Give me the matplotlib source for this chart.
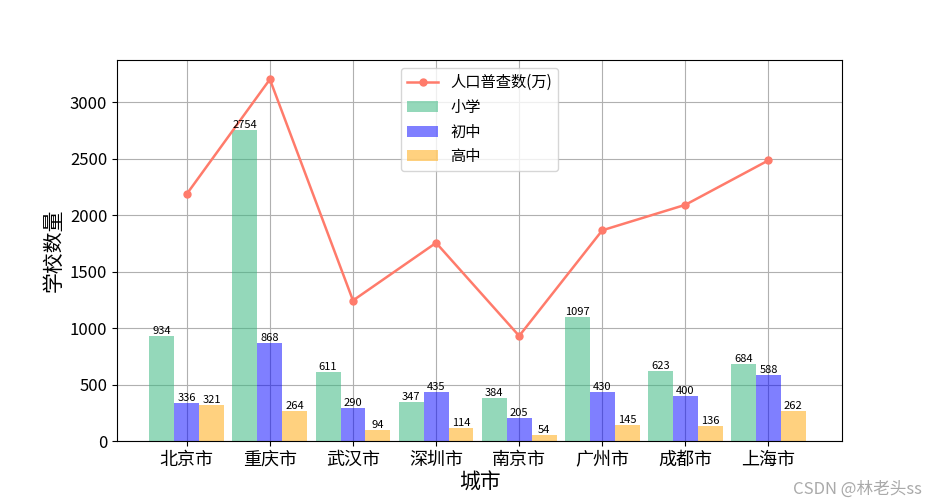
import matplotlib.pyplot as plt
import numpy as np

plt.rcParams['font.sans-serif'] = ['Noto Sans CJK SC']
plt.rcParams['axes.unicode_minus'] = False

cities = ['北京市', '重庆市', '武汉市', '深圳市', '南京市', '广州市', '成都市', '上海市']
primary = [934, 2754, 611, 347, 384, 1097, 623, 684]
junior = [336, 868, 290, 435, 205, 430, 400, 588]
senior = [321, 264, 94, 114, 54, 145, 136, 262]
population = [2189, 3205, 1245, 1756, 931, 1867, 2093, 2487]

x = np.arange(len(cities))
w = 0.3

fig = plt.figure(figsize=(9.36, 5.04), dpi=100)
ax = fig.add_axes([0.125, 0.125, 0.775, 0.755])
ax.grid(True, zorder=0)
ax.set_axisbelow(True)
b1 = ax.bar(x - w, primary, w, color='#3cb982', alpha=0.55, label='小学')
b2 = ax.bar(x, junior, w, color='#0000ff', alpha=0.5, label='初中')
b3 = ax.bar(x + w, senior, w, color='#ffa500', alpha=0.5, label='高中')
ax.plot(x, population, '-o', color='#ff7b6b', lw=1.8, ms=5, label='人口普查数(万)')
for bars in (b1, b2, b3):
    for b in bars:
        ax.text(b.get_x() + b.get_width() / 2, b.get_height(), str(int(b.get_height())),
                ha='center', va='bottom', fontsize=8)
ax.set_xticks(x)
ax.set_xticklabels(cities, fontsize=13)
ax.tick_params(axis='y', labelsize=12)
ax.set_xlim(-0.84, 7.89)
ax.set_ylim(0, 3372)
ax.set_xlabel('城市', fontsize=15, labelpad=2)
ax.set_ylabel('学校数量', fontsize=15)
ax.legend(loc='upper center', fontsize=11)
fig.text(0.985, 0.02, 'CSDN @林老头ss', ha='right', fontsize=12, color='#aaaaaa')
fig.savefig('out.png')
